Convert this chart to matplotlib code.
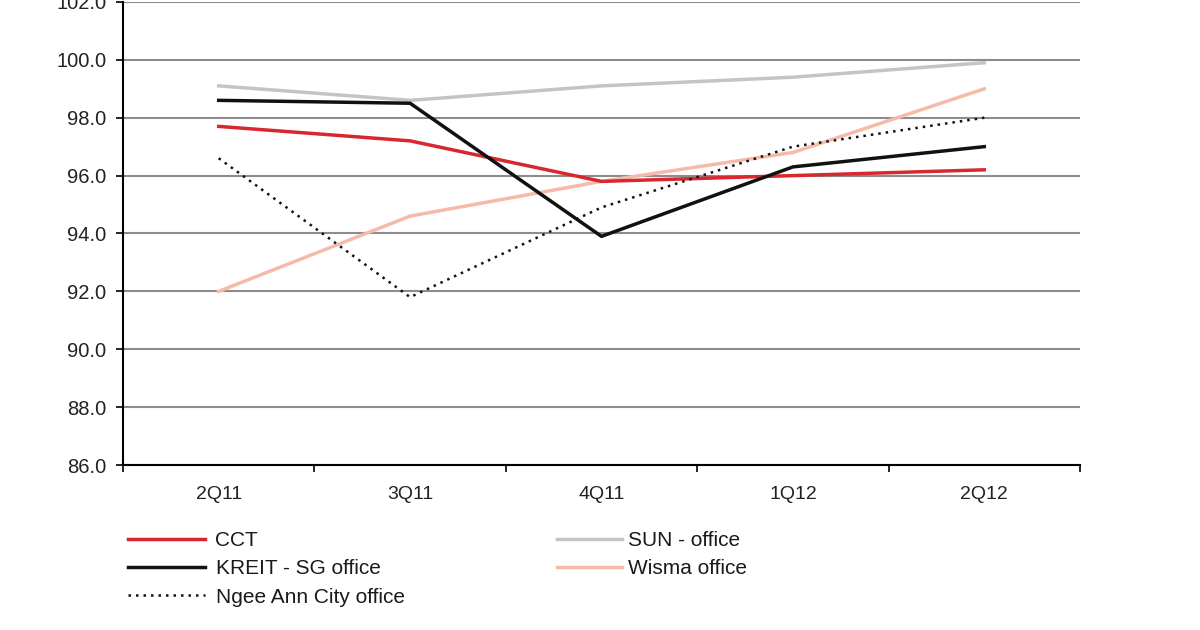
import matplotlib
matplotlib.use("Agg")
import matplotlib.pyplot as plt
from matplotlib.ticker import FormatStrFormatter, MultipleLocator, FixedLocator

quarters = ["2Q11", "3Q11", "4Q11", "1Q12", "2Q12"]

cct = [97.7, 97.2, 95.8, 96.0, 96.2]
kreit = [98.6, 98.5, 93.9, 96.3, 97.0]
ngee_ann = [96.6, 91.8, 94.9, 97.0, 98.0]
sun = [99.1, 98.6, 99.1, 99.4, 99.9]
wisma = [92.0, 94.6, 95.8, 96.8, 99.0]

plt.rcParams['font.family'] = ['Liberation Sans', 'DejaVu Sans']

fig = plt.figure(figsize=(12, 6.3), dpi=100)
ax = fig.add_axes([0.1025, 0.2619, 0.7975, 0.735])

x = range(len(quarters))
l_cct, = ax.plot(x, cct, color="#d7282f", lw=2.5, label="CCT", zorder=4)
l_kreit, = ax.plot(x, kreit, color="#111111", lw=2.5, label="KREIT - SG office", zorder=5)
l_ngee, = ax.plot(x, ngee_ann, color="#111111", lw=1.8, ls=(0, (1, 2)),
                  label="Ngee Ann City office", zorder=6)
l_sun, = ax.plot(x, sun, color="#c4c4c4", lw=2.5, label="SUN - office", zorder=3)
l_wisma, = ax.plot(x, wisma, color="#f5bba8", lw=2.5, label="Wisma office", zorder=3)

ax.set_ylim(86, 102)
ax.set_xlim(-0.5, len(quarters) - 0.5)
ax.yaxis.set_major_locator(MultipleLocator(2))
ax.yaxis.set_major_formatter(FormatStrFormatter("%.1f"))
ax.set_xticks(list(x))
ax.set_xticklabels(quarters)
ax.xaxis.set_minor_locator(FixedLocator([i - 0.5 for i in range(len(quarters) + 1)]))
ax.tick_params(axis="x", which="major", length=0, pad=15, labelsize=14, labelcolor="#222222")
ax.tick_params(axis="x", which="minor", length=5, width=1.2, direction="out")
ax.tick_params(axis="y", length=5, width=1.2, direction="out", pad=7,
               labelsize=14.5, labelcolor="#222222")

ax.grid(axis="y", color="#8c8c8c", lw=1.5, zorder=0)
ax.set_axisbelow(True)
for s in ["top", "right"]:
    ax.spines[s].set_visible(False)
for s in ["left", "bottom"]:
    ax.spines[s].set_linewidth(1.5)
    ax.spines[s].set_color("black")

leg_kw = dict(frameon=False, fontsize=15, labelspacing=0.45, borderaxespad=0,
              borderpad=0, labelcolor="#1a1a1a")
leg1 = fig.legend(handles=[l_cct, l_kreit, l_ngee], loc="upper left",
                  bbox_to_anchor=(128 / 1200, 1 - 531 / 630),
                  handlelength=3.7, handletextpad=0.5, **leg_kw)
leg2 = fig.legend(handles=[l_sun, l_wisma], loc="upper left",
                  bbox_to_anchor=(557 / 1200, 1 - 531 / 630),
                  handlelength=3.1, handletextpad=0.3, **leg_kw)

fig.savefig("out.png", dpi=100)
